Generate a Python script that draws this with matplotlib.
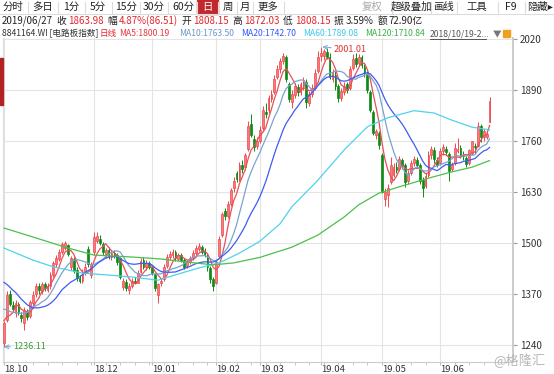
import numpy as np
import pandas as pd
import matplotlib
matplotlib.use("Agg")
import matplotlib.pyplot as plt
from matplotlib.patches import Rectangle

plt.rcParams['font.family'] = ['Noto Sans CJK SC', 'DejaVu Sans']

# daily candles 2018/10/19 - 2019/06/27 (index = trading day)
opens = [1245, 1305, 1370, 1342, 1322, 1345, 1318, 1296, 1325, 1315,
         1348, 1370, 1392, 1378, 1395, 1380, 1390, 1420, 1448, 1460,
         1478, 1488, 1495, 1440, 1460, 1432, 1412, 1405, 1428, 1485,
         1420, 1478, 1505, 1510, 1498, 1472, 1482, 1465, 1476, 1470,
         1462, 1388, 1402, 1380, 1390, 1405, 1400, 1428, 1458, 1440,
         1450, 1440, 1422, 1368, 1398, 1408, 1442, 1465, 1470, 1478,
         1460, 1470, 1458, 1442, 1452, 1462, 1475, 1485, 1490, 1480,
         1468, 1438, 1408, 1400, 1468, 1520, 1582, 1570, 1600, 1640,
         1680, 1665, 1700, 1695, 1740, 1805, 1765, 1748, 1762, 1795,
         1835, 1840, 1868, 1885, 1925, 1945, 1965, 1975, 1905, 1860,
         1878, 1898, 1885, 1900, 1912, 1858, 1880, 1895, 1940, 1978,
         1978, 1988, 1975, 1920, 1930, 1900, 1870, 1885, 1905, 1895,
         1948, 1972, 1960, 1975, 1950, 1932, 1885, 1835, 1775, 1780,
         1725, 1612, 1622, 1655, 1675, 1695, 1690, 1712, 1700, 1660,
         1680, 1705, 1712, 1700, 1662, 1645, 1675, 1725, 1738, 1712,
         1705, 1735, 1740, 1728, 1690, 1705, 1736, 1742, 1725, 1718,
         1705, 1730, 1748, 1748, 1800, 1770, 1772, 1808.15]
highs = [1302, 1378, 1382, 1352, 1355, 1350, 1325, 1338, 1332, 1356,
         1378, 1398, 1400, 1402, 1402, 1398, 1428, 1456, 1470, 1485,
         1503, 1505, 1498, 1468, 1465, 1440, 1420, 1435, 1450, 1492,
         1452, 1528, 1528, 1520, 1504, 1488, 1490, 1483, 1482, 1475,
         1466, 1412, 1408, 1398, 1412, 1415, 1432, 1462, 1465, 1458,
         1455, 1445, 1425, 1400, 1412, 1446, 1472, 1480, 1485, 1482,
         1476, 1475, 1462, 1460, 1468, 1482, 1495, 1500, 1495, 1488,
         1472, 1442, 1415, 1458, 1518, 1580, 1590, 1608, 1642, 1668,
         1685, 1708, 1712, 1730, 1812, 1830, 1775, 1770, 1798, 1850,
         1858, 1878, 1890, 1930, 1955, 1972, 1985, 1980, 1912, 1890,
         1908, 1905, 1912, 1925, 1918, 1888, 1905, 1945, 1990, 2001.01,
         1996, 1998, 1985, 1945, 1938, 1905, 1895, 1910, 1912, 1952,
         1982, 1985, 1982, 1980, 1958, 1938, 1890, 1840, 1792, 1785,
         1730, 1640, 1650, 1720, 1705, 1708, 1722, 1718, 1705, 1688,
         1712, 1722, 1720, 1705, 1668, 1680, 1735, 1748, 1745, 1720,
         1742, 1752, 1748, 1732, 1708, 1756, 1768, 1750, 1735, 1722,
         1740, 1755, 1755, 1810, 1805, 1792, 1790, 1872.03]
lows = [1236.11, 1300, 1340, 1325, 1312, 1318, 1300, 1279, 1305, 1310,
        1340, 1362, 1372, 1370, 1378, 1375, 1383, 1415, 1440, 1455,
        1472, 1482, 1468, 1432, 1425, 1405, 1400, 1400, 1420, 1440,
        1412, 1470, 1500, 1495, 1470, 1462, 1460, 1458, 1462, 1445,
        1410, 1380, 1378, 1372, 1385, 1395, 1398, 1424, 1435, 1432,
        1435, 1420, 1378, 1348, 1392, 1405, 1438, 1458, 1462, 1455,
        1455, 1452, 1435, 1438, 1448, 1458, 1470, 1480, 1472, 1465,
        1430, 1400, 1378, 1395, 1462, 1515, 1560, 1565, 1595, 1632,
        1655, 1660, 1680, 1688, 1735, 1770, 1735, 1740, 1755, 1790,
        1820, 1832, 1860, 1880, 1918, 1935, 1958, 1912, 1860, 1845,
        1870, 1875, 1878, 1892, 1845, 1850, 1872, 1890, 1935, 1965,
        1968, 1970, 1918, 1910, 1892, 1860, 1862, 1878, 1882, 1890,
        1942, 1950, 1952, 1948, 1925, 1882, 1835, 1775, 1765, 1740,
        1628, 1595, 1592, 1650, 1668, 1680, 1685, 1690, 1643, 1652,
        1675, 1698, 1692, 1650, 1618, 1640, 1670, 1715, 1705, 1695,
        1700, 1725, 1725, 1660, 1685, 1700, 1730, 1718, 1712, 1695,
        1700, 1725, 1728, 1745, 1758, 1762, 1765, 1808.15]
closes = [1298, 1368, 1345, 1332, 1348, 1322, 1310, 1330, 1312, 1350,
          1368, 1390, 1380, 1395, 1385, 1392, 1420, 1450, 1462, 1478,
          1498, 1500, 1472, 1462, 1430, 1412, 1405, 1428, 1440, 1448,
          1445, 1515, 1518, 1502, 1478, 1482, 1468, 1476, 1470, 1452,
          1415, 1405, 1386, 1392, 1405, 1400, 1425, 1455, 1440, 1450,
          1440, 1425, 1385, 1395, 1405, 1440, 1465, 1472, 1478, 1462,
          1470, 1458, 1440, 1455, 1462, 1475, 1488, 1492, 1478, 1470,
          1440, 1410, 1392, 1452, 1512, 1575, 1570, 1600, 1635, 1660,
          1665, 1700, 1690, 1725, 1800, 1775, 1745, 1762, 1790, 1840,
          1830, 1870, 1880, 1920, 1945, 1965, 1978, 1918, 1868, 1880,
          1900, 1885, 1905, 1915, 1860, 1880, 1895, 1935, 1975, 1985,
          1990, 1975, 1925, 1935, 1900, 1870, 1888, 1900, 1890, 1945,
          1970, 1958, 1975, 1955, 1935, 1890, 1840, 1780, 1785, 1750,
          1632, 1630, 1640, 1700, 1695, 1688, 1715, 1698, 1655, 1680,
          1705, 1715, 1700, 1660, 1640, 1672, 1725, 1740, 1715, 1700,
          1735, 1745, 1732, 1685, 1700, 1742, 1740, 1725, 1722, 1701,
          1738, 1760, 1745, 1800, 1772, 1787.5, 1777.47, 1863.98]
# closes before the window, for the short moving averages
pre_closes = [1470, 1478, 1482, 1475, 1490, 1485, 1470, 1455, 1440, 1445,
              1380, 1385, 1360, 1350, 1330, 1320, 1325, 1300, 1270]

# long moving averages (day index, value)
ma60_idx = [0, 10, 17, 27, 36, 44, 53, 61, 67, 74, 81, 88, 95, 99, 108, 117, 125, 132, 141, 148, 154, 161, 167]
ma60_val = [1488, 1457, 1440, 1424, 1419, 1414, 1406, 1424, 1437, 1450, 1475, 1505, 1550, 1593,
            1661, 1738, 1797, 1820, 1838, 1832, 1814, 1796, 1789.08]
ma120_idx = [0, 10, 22, 31, 44, 54, 63, 72, 79, 88, 99, 108, 117, 122, 129, 136, 146, 154, 161, 167]
ma120_val = [1539, 1516, 1488, 1470, 1465, 1460, 1452, 1445, 1450, 1464, 1490, 1521, 1567, 1598,
             1628, 1644, 1666, 1682, 1694, 1710.84]

month_idx = [0, 31, 51, 73, 88, 109, 130, 150]
month_lbl = ['18.10', '18.12', '19.01', '19.02', '19.03', '19.04', '19.05', '19.06']
price_ticks = [1240, 1370, 1500, 1630, 1760, 1890, 2020]

W, H = 554, 374
def px(x, y):
    return x / W, 1 - y / H

fig = plt.figure(figsize=(W / 100, H / 100), dpi=100)
ax = fig.add_axes([3 / W, 1 - 362 / H, 510 / W, (362 - 38) / H])

o = np.array(opens); h = np.array(highs); l = np.array(lows); c = np.array(closes)
idx = np.arange(len(c))
up = c >= o
dn = ~up
up_col, dn_col = '#f0474d', '#0e8a16'

ax.vlines(idx[up], l[up], h[up], color=up_col, lw=0.7, zorder=3)
ax.vlines(idx[dn], l[dn], h[dn], color=dn_col, lw=0.7, zorder=3)
body = np.maximum(np.abs(c - o), 1.5)
ax.bar(idx[up], body[up], bottom=o[up], width=0.62, color='#f47c7c', edgecolor=up_col, lw=0.5, zorder=4)
ax.bar(idx[dn], body[dn], bottom=c[dn], width=0.62, color=dn_col, edgecolor=dn_col, lw=0.5, zorder=4)

allc = pd.Series(pre_closes + closes, dtype=float)
n0 = len(pre_closes)
ma5 = allc.rolling(5).mean().values[n0:]
ma10 = allc.rolling(10).mean().values[n0:]
ma20 = allc.rolling(20).mean().values[n0:]
ax.plot(idx, ma5, color='#e8505a', lw=0.9, zorder=5)
ax.plot(idx, ma10, color='#7aa3cf', lw=0.9, zorder=5)
ax.plot(idx, ma20, color='#3d5cf5', lw=0.9, zorder=5)
ax.plot(ma60_idx, ma60_val, color='#4fd2ee', lw=0.9, zorder=5)
ax.plot(ma120_idx, ma120_val, color='#4cbf4c', lw=0.9, zorder=5)

# high / low markers
ax.annotate('2001.01', xy=(109, 2001.01), xytext=(113.5, 1994), color='#e0302f', fontsize=6.5,
            va='center', ha='left', arrowprops=dict(arrowstyle='->', color='#7ab0e0', lw=0.8,
                                                    shrinkA=0, shrinkB=1))
ax.annotate('1236.11', xy=(0, 1236.11), xytext=(3.2, 1236.11), color='#3a9a3a', fontsize=6.5,
            va='center', ha='left', arrowprops=dict(arrowstyle='->', color='#7ab0e0', lw=0.8,
                                                    shrinkA=0, shrinkB=0))

ax.set_xlim(-0.31, 175.07)
ax.set_ylim(1197.4, 2023.3)

ax.set_yticks(price_ticks)
ax.yaxis.tick_right()
ax.tick_params(axis='y', length=3, width=0.8, color='#999999', labelsize=7, labelcolor='#333333', pad=2)
ax.set_xticks(month_idx)
ax.set_xticklabels(month_lbl, ha='left')
ax.set_xticks(np.arange(0, 170, 5), minor=True)
ax.tick_params(axis='x', which='major', length=2, color='#bbbbbb', labelsize=6.8, labelcolor='#333333', pad=0.5)
ax.tick_params(axis='x', which='minor', length=2, color='#bbbbbb')
ax.grid(True, which='major', color='#e4e4e4', lw=0.8)
ax.spines['top'].set_visible(False)
ax.spines['left'].set_color('#dddddd')
ax.spines['right'].set_color('#cccccc')
ax.spines['right'].set_linewidth(1.4)
ax.spines['bottom'].set_color('#cccccc')

# left marker bar
fig.patches.append(Rectangle(px(0, 105), 3 / W, 47 / H, transform=fig.transFigure, color='#b22222'))

# toolbar
fig.patches.append(Rectangle(px(197, 14), 21 / W, 14 / H, transform=fig.transFigure, color='#c0282d'))
tb = [('分时', 13), ('多日', 43), ('1分', 71), ('5分', 98), ('15分', 126), ('30分', 154),
      ('60分', 183), ('日', 207), ('周', 228), ('月', 245), ('更多', 268)]
for t, x in tb:
    fig.text(*px(x, 7), t, fontsize=7.5, ha='center', va='center',
             color='white' if t == '日' else '#222222')
for x in [28, 58, 85, 112, 140, 168, 197, 218, 237, 253, 284]:
    fig.add_artist(plt.Line2D([x / W] * 2, [1 - 2 / H, 1 - 13 / H], color='#dcdcdc', lw=0.8))
tb2 = [('复权', 372, '#aaaaaa'), ('超级叠加', 411, '#222222'), ('画线', 443, '#222222'),
       ('工具', 477, '#222222'), ('F9', 511, '#222222'), ('隐藏▸', 540, '#222222')]
for t, x, col in tb2:
    fig.text(*px(x, 7), t, fontsize=7.5, ha='center', va='center', color=col)
for x in [392, 431, 457, 498, 525]:
    fig.add_artist(plt.Line2D([x / W] * 2, [1 - 2 / H, 1 - 13 / H], color='#dcdcdc', lw=0.8))
fig.add_artist(plt.Line2D([0, 1], [1 - 14 / H] * 2, color='#dcdcdc', lw=0.8))

# quote row: label / value pairs laid out left to right between x=2 and x=423
red = '#e0262c'
dark = '#222222'
row2 = [('2019/06/27', dark), ('收', dark), ('1863.98', red), ('幅', dark), ('4.87%(86.51)', red),
        ('开', dark), ('1808.15', red), ('高', dark), ('1872.03', red), ('低', dark),
        ('1808.15', red), ('振', dark), ('3.59%', dark), ('额', dark), ('72.90亿', dark)]
renderer = fig.canvas.get_renderer()
arts = [fig.text(0, 1 - 21 / H, t, fontsize=7, ha='left', va='center', color=col) for t, col in row2]
widths = [a.get_window_extent(renderer).width for a in arts]
small = 2.0
n_big = 7
big = (423 - 2 - sum(widths) - small * 7) / n_big
x = 2.0
for k, a in enumerate(arts):
    a.set_x(x / W)
    x += widths[k]
    if k == 0 or k % 2 == 0:
        x += big
    else:
        x += small

# indicator row
row3 = [('8841164.WI [电路板指数]', 2, '#333333'), ('日线', 99, red),
        ('MA5:1800.19', 119, '#e8363c'), ('MA10:1763.50', 179, '#6b97c8'),
        ('MA20:1742.70', 241, '#3355ff'), ('MA60:1789.08', 303, '#3fc8e8'),
        ('MA120:1710.84', 365, '#3cb043'), ('2018/10/19-2...', 430, '#555555'),
        ('▼', 493, '#777777')]
for t, x0, col in row3:
    fig.text(*px(x0, 33.5), t, fontsize=6.2, ha='left', va='center', color=col)
fig.add_artist(plt.Line2D([430 / W, 486 / W], [1 - 39 / H] * 2, color='#555555', lw=0.7))
fig.patches.append(Rectangle(px(503, 37), 7 / W, 7 / H, transform=fig.transFigure, color='#f0a020'))

fig.text(*px(519, 361), '@格隆汇', fontsize=9.5, ha='center', va='center', color='#b8b8b8')

fig.savefig('out.png', dpi=100)
